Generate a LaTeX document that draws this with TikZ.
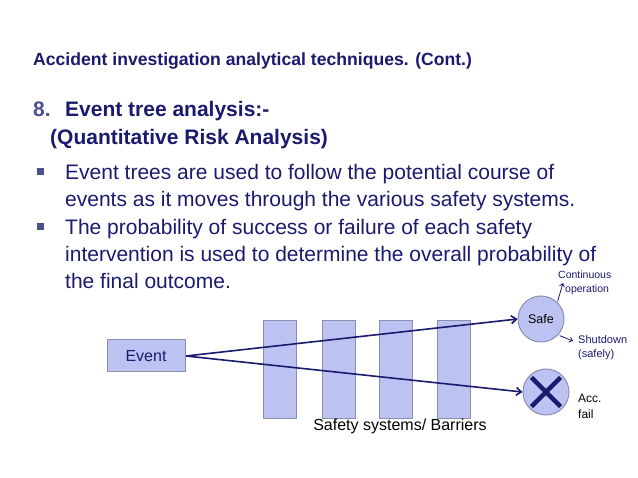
\documentclass[tikz,border=0pt]{standalone}
\usepackage{fontspec}
\setmainfont{Liberation Sans}
\usetikzlibrary{arrows.meta}
\definecolor{navy}{HTML}{1A1A6E}
\definecolor{numc}{HTML}{4A5090}
\definecolor{boxfill}{HTML}{BCC3F2}
\definecolor{boxline}{HTML}{8A8FB0}
\begin{document}
\begin{tikzpicture}[x=1pt,y=-1pt,
  txt/.style={anchor=base west,inner sep=0pt,text=navy,font=\fontsize{21}{24}\selectfont},
  barrier/.style={draw=boxline,fill=boxfill,line width=1pt},
  lnk/.style={draw=navy,line width=1.6pt,-{Straight Barb[length=5pt,width=8pt]}},
  small/.style={inner sep=0pt,text=navy,font=\fontsize{10.5}{14}\selectfont,align=left}]
\useasboundingbox (0,0) rectangle (638,478);
\node[txt,font=\bfseries\fontsize{17.6}{20}\selectfont] (title) at (33,66) {Accident investigation analytical techniques. (Cont.)};
\node[txt,text=numc,font=\bfseries\fontsize{21}{24}\selectfont] (n8) at (33,117) {8.};
\node[txt,font=\bfseries\fontsize{21}{24}\selectfont] (h1) at (65,117) {Event tree analysis:-};
\node[txt,font=\bfseries\fontsize{21}{24}\selectfont] (h2) at (50,145) {(Quantitative Risk Analysis)};
\node[fill=numc,minimum size=7pt,inner sep=0pt] (b1) at (40,172) {};
\node[fill=numc,minimum size=7pt,inner sep=0pt] (b2) at (40,227) {};
\node[txt] (l1) at (65,180) {Event trees are used to follow the potential course of};
\node[txt] (l2) at (65,207) {events as it moves through the various safety systems.};
\node[txt] (l3) at (65,235) {The probability of success or failure of each safety};
\node[txt] (l4) at (65,262) {intervention is used to determine the overall probability of};
\node[txt] (l5) at (65,289) {the final outcome.};
\node[barrier,minimum width=78pt,minimum height=32pt,inner sep=0pt,font=\fontsize{16}{18}\selectfont,text=navy] (ev) at (146,356) {Event};
\foreach \x/\n in {279.5/a,338.5/b,395.5/c,453.5/d}
  \node[barrier,minimum width=33pt,minimum height=98pt,inner sep=0pt] (bar\n) at (\x,370) {};
\node[circle,draw=boxline,fill=boxfill,line width=1pt,minimum size=46pt,inner sep=0pt,font=\fontsize{12.5}{14}\selectfont] (safe) at (541,319) {Safe};
\node[circle,draw=boxline,fill=boxfill,line width=1pt,minimum size=46pt,inner sep=0pt] (fail) at (546,392) {};
\draw[navy,line width=4.5pt] (fail.north west) ++(2,2) -- ([shift={(-2,-2)}]fail.south east);
\draw[navy,line width=4.5pt] ([shift={(-2,2)}]fail.north east) -- ([shift={(2,-2)}]fail.south west);
\coordinate (evs) at (186,356);
\draw[lnk] (evs) -- (safe.west);
\draw[lnk] (evs) -- (fail.west);
\node[small,anchor=base west,font=\fontsize{10.5}{14}\selectfont] (cont1) at (558,279) {Continuous};
\node[small,anchor=base west,font=\fontsize{10.5}{14}\selectfont] (cont2) at (565,293) {operation};
\coordinate (ca) at (563,283);
\draw[navy,line width=0.8pt,-{Straight Barb[length=3pt,width=5pt]}] (safe.north east) ++(0,-1) -- (ca);
\node[small,anchor=west,font=\fontsize{11}{14}\selectfont] (shut) at (578,348) {Shutdown\\(safely)};
\coordinate (sa) at (573,341);
\draw[navy,line width=0.8pt,-{Straight Barb[length=3pt,width=5pt]}] (safe.south east) ++(2,0) -- (sa);
\node[small,anchor=west,text=black,font=\fontsize{12}{16}\selectfont] (acc) at (578,406) {Acc.\\fail};
\node[inner sep=0pt,anchor=base,font=\fontsize{16}{18}\selectfont] (sys) at (400,431) {Safety systems/ Barriers};
\end{tikzpicture}
\end{document}
